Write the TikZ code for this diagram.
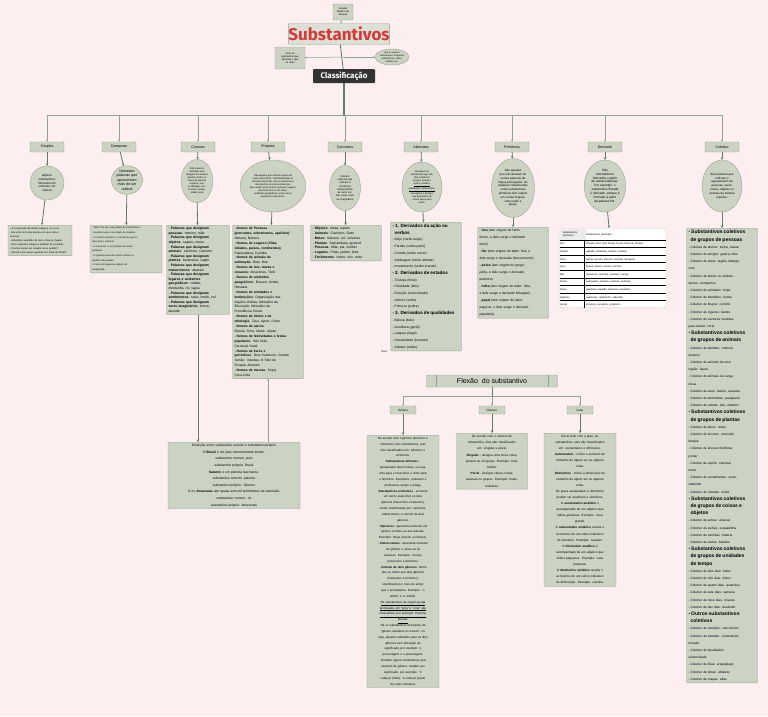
\documentclass[tikz,border=0pt]{standalone}
\usepackage{fontspec}
\setmainfont{Liberation Sans}
\newfontfamily\titlefont{Fira Sans}
\usetikzlibrary{shapes.geometric,arrows.meta}
\definecolor{bg}{HTML}{FDEFEF}
\definecolor{nf}{HTML}{CBD4C3}
\definecolor{nb}{HTML}{94A58E}
\definecolor{ln}{HTML}{5E7A6E}
\definecolor{ttl}{HTML}{D9383A}
\tikzset{
 cat/.style={draw=nb,fill=nf,rounded corners=1pt,minimum width=34pt,minimum height=10pt,inner sep=1pt,font=\fontsize{3.6}{4}\selectfont},
 ell/.style={ellipse,draw=nb,fill=nf,inner sep=0pt,align=center,font=\fontsize{3}{3.8}\selectfont},
 boxn/.style={draw=nb,fill=nf,rounded corners=1pt,anchor=north,inner sep=2pt,align=left,font=\fontsize{3.3}{5}\selectfont},
 conn/.style={draw=ln,line width=0.8pt,-{Stealth[length=2.5pt,width=2.5pt]}},
 thin/.style={draw=ln!70,line width=0.5pt,-{Stealth[length=2pt,width=2pt]}}
}
\begin{document}
\begin{tikzpicture}[x=1pt,y=-1pt]
\fill[bg] (0,0) rectangle (768,716);
\useasboundingbox (0,0) rectangle (768,716);
% header
\node[draw=nb,fill=nf,rounded corners=1pt,minimum width=20pt,minimum height=16pt,align=center,font=\fontsize{2.5}{3}\selectfont,inner sep=0pt] (auth) at (343,12) {Jonatas\\Martins da\\Oliveira};
\node[draw=nb,fill=nf!70,rounded corners=1pt,minimum width=98pt,minimum height=21pt,inner sep=0pt,font=\titlefont\bfseries\fontsize{17}{17}\selectfont,text=ttl] (sub) at (339,34) {Substantivos};
\node[draw=nb,fill=nf,rounded corners=1pt,minimum width=30pt,minimum height=22pt,align=center,font=\fontsize{2.5}{3}\selectfont,inner sep=0pt] (tudo) at (290,58) {Tudo ao\\substantivo que\\alimenta o que\\se mais};
\node[ellipse,draw=nb,fill=nf,minimum width=27pt,minimum height=16pt,align=center,font=\fontsize{2.3}{2.8}\selectfont,inner sep=0pt] (ir) at (392,57) {Isto é, acentua\\substantivos: Enquanto\\substantivos: ações,\\estados etc.};
\node[fill=black!80,rounded corners=1pt,minimum width=62pt,minimum height=14pt,inner sep=0pt,font=\titlefont\bfseries\fontsize{8}{8}\selectfont,text=white] (cls) at (344,76) {Classificação};
\draw[thin] (auth) -- (sub);
\coordinate (mid) at (344,57);
\draw[draw=ln,line width=0.8pt] (sub) -- (cls);
\draw[thin] (mid) -- (tudo);
\draw[thin] (mid) -- (ir);
% trunk
\coordinate (hb) at (344,115);
\draw[draw=ln,line width=1.2pt] (cls) -- (hb);
\draw[draw=ln!70,line width=0.6pt] (47,115) -- (722,115);
\foreach \n/\x/\t in {c1/47/Simples,c2/119/Composto,c3/198/Comuns,c4/268/Próprios,c5/345/Concretos,c6/421/Abstratos,c7/512/Primitivos,c8/605/Derivado,c9/722/Coletivo}{
 \node[cat] (\n) at (\x,147) {\t};
 \coordinate (t\n) at (\x,115);
 \draw[thin] (t\n) -- (\n);
}
% ellipses
\node[ell,minimum width=34pt,minimum height=34pt] (e1) at (47,183) {adjetivo\\substantivos\\formados em\\somente um\\radical};
\node[ell,minimum width=31pt,minimum height=27pt,font=\fontsize{3.6}{4.4}\selectfont] (e2) at (127,180) {Nomeiam\\palavras que\\apresentam\\mais de um\\radical};
\node[ell,minimum width=32pt,minimum height=43pt,font=\fontsize{2.4}{3}\selectfont] (e3) at (197,181) {São palavras\\utilizadas para\\designar de maneira\\genérica todos os\\seres da mesma\\espécie, sem\\os distinguir. Ex.:\\homem, mulher,\\cidade, país};
\node[ell,minimum width=54pt,minimum height=52pt,font=\fontsize{2.4}{3}\selectfont] (e4) at (273,186) {São aqueles que indicam nomes de\\seres específicos, individualizando-os\\de forma particular. Esses substantivos\\são escritos com letra maiúscula.\\São usados para nomear pessoas, lugares,\\títulos de livros e de obras,\\acidentes geográficos, entre outros\\elementos específicos.};
\node[ell,minimum width=31pt,minimum height=45pt,font=\fontsize{2.6}{3.3}\selectfont] (e5) at (345,188) {Indicam\\palavras que\\indicam a\\existência\\independente\\de outro ser.\\São seres reais\\ou imaginários};
\node[ell,minimum width=40pt,minimum height=50pt,font=\fontsize{2.4}{3}\selectfont] (e6) at (422,187) {Designam as\\substâncias que não\\têm existência\\própria. Indicam\\\underline{ações, estados,}\\\underline{qualidades, sentimentos},\\sensações e desejos\\que dependem de\\outros seres para\\existir.};
\node[ell,minimum width=43pt,minimum height=59pt,font=\fontsize{3}{3.8}\selectfont] (e7) at (513,188) {São aquelas\\que não derivam de\\outras palavras da\\língua portuguesa. As\\palavras classificadas\\como substantivos\\primitivos têm origem\\em outras línguas,\\como latim e\\grego.};
\node[ell,minimum width=37pt,minimum height=52pt,font=\fontsize{3.2}{3.9}\selectfont] (e8) at (605,186) {São\\substantivos\\formados a partir\\de outras palavras.\\Por exemplo, o\\substantivo florada\\é derivado, porque é\\formado a partir\\da palavra flor.};
\node[ell,minimum width=40pt,minimum height=52pt,font=\fontsize{3}{3.8}\selectfont] (e9) at (722,186) {São palavras que\\indicam o\\agrupamento de\\pessoas, seres,\\coisas, objetos ou\\animais da mesma\\espécie.};
\foreach \i in {1,...,9}{\draw[conn] (c\i) -- (e\i);}
% boxes
\node[boxn,text width=60pt,font=\fontsize{2.5}{4}\selectfont] (b1) at (40,225) {- A conjuntivite da minha colega é um vírus.\\- Ela está com uma doença em que corta o\\pescoço.\\- Amanhã a aparelho do meu irmão já chegou.\\- Este material é alegria e também foi revertido.\\- Precisa mudar um modelo ali ao pedido?\\- Quanto você espera ganhar nos finais de férias?};
\node[boxn,text width=68pt,font=\fontsize{2.4}{4.6}\selectfont] (b2) at (126,225) {- Tanto nós são mais partes da substantivos.\\- Guarda-roupa é um objeto de madeira.\\- O cachorro-quente é o lanche de que eu\\mais gosto, portanto.\\- A couve-flor é uma planta de muitas\\proteínas.\\- O guarda-chuva de ontem molhou os\\quadros das janelas.\\- O arco-íris apareceu depois da\\tempestade.};
\node[boxn,text width=59pt,font=\fontsize{3.4}{4.6}\selectfont] (b3) at (198,225) {- \textbf{Palavras que designam}\\\textbf{pessoas}: menino, mãe\\- \textbf{Palavras que designam}\\\textbf{objetos}: sapato, mesa\\- \textbf{Palavras que designam}\\\textbf{animais}: cachorro, cachorro\\- \textbf{Palavras que designam}\\\textbf{plantas}: bananeira, capim\\- \textbf{Palavras que designam}\\\textbf{meteorismos}: abacaxi\\- \textbf{Palavras que designam}\\\textbf{lugares e acidentes}\\\textbf{geográficos}: cidade,\\montanha, rio, lagoa\\- \textbf{Palavras que designam}\\\textbf{sentimentos}: raiva, medo, sol\\- \textbf{Palavras que designam}\\\textbf{seres imaginários}: bruxa,\\duende};
\node[boxn,text width=67pt,font=\fontsize{3.3}{4.9}\selectfont] (b4) at (268,225) {- \textbf{Nomes de Pessoas}\\\textbf{(prenomes, sobrenomes, apelidos)}:\\Adriana, Bezerra\\- \textbf{Nomes de Lugares (Vilas,}\\\textbf{cidades, países, continentes)}:\\Copacabana, Curitiba\\- \textbf{Nomes de animais de}\\\textbf{estimação}: Bidu, Bob\\- \textbf{Nomes de rios, mares e}\\\textbf{oceanos}: Amazonas, Tietê\\- \textbf{Nomes de acidentes}\\\textbf{geográficos}: Everest, Andes,\\Himalaia\\- \textbf{Nomes de entidades e}\\\textbf{instituições}: Organização das\\Nações Unidas, Ministério da\\Educação, Ministério da\\Previdência Social.\\- \textbf{Nomes de títulos e da}\\\textbf{mitologia}: Zeus, Apolo, Cristo\\- \textbf{Nomes de astros}: \\Estrela, Terra, Marte, Júpiter\\- \textbf{Nomes de festividades e festas}\\\textbf{populares}: São João,\\Carnaval, Natal.\\- \textbf{Nomes de livros e}\\\textbf{periódicos}: Dom Casmurro, Grande\\Sertão: Veredas, O Sítio do\\Picapau Amarelo\\- \textbf{Nomes de marcas}: Pepsi,\\Coca-Cola};
\node[boxn,text width=67pt,font=\fontsize{3.4}{4.8}\selectfont] (b5) at (346,225) {- \textbf{Objetos}: mesa, tapete\\- \textbf{Animais}: Cachorro, Gato\\- \textbf{Metas}: Saturno, sol, universo\\- \textbf{Plantas}: Samambaia, girassol\\- \textbf{Pessoas}: Mãe, pai, mulher\\- \textbf{Lugares}: Praia, jardim, feira\\- \textbf{Fenômenos}: Vento, céu, noite};
\node[boxn,text width=67pt,font=\fontsize{3.3}{6.7}\selectfont] (b6) at (426,222) {{\fontsize{4.6}{5.5}\selectfont\textbf{- 1. Derivados da ação ou}}\\{\fontsize{4.6}{5.5}\selectfont\textbf{\ \ verbos}}\\- Beijo (verbo beijar)\\- Partida (verbo partir)\\- Corrida (verbo correr)\\- Arbitragem (verbo arbitrar)\\- Investimento (verbo investir)\\{\fontsize{4.6}{5.5}\selectfont\textbf{- 2. Derivados de estados}}\\- Tristeza (triste)\\- Felicidade (feliz)\\- Emoção (emocionado)\\- Velhice (velho)\\- Pobreza (pobre)\\{\fontsize{4.6}{5.5}\selectfont\textbf{- 3. Derivados de qualidades}}\\- Beleza (belo)\\- Gentileza (gentil)\\- Largura (largo)\\- Honestidade (honesto)\\- Solidez (sólido)};
\node[font=\fontsize{2.5}{3}\selectfont] (txt) at (384,352) {Texto};
\node[boxn,text width=67pt,font=\fontsize{3.3}{7}\selectfont] (b7) at (513,227) {- \textbf{fera} (tem origem do latim:\\ferum, a dele surge o derivado\\feroz)\\- \textbf{flor} (tem origem do latim: flos, e\\dele surge o derivado florescimento)\\- \textbf{pedra} (tem origem do grego:\\pétra, e dele surge o derivado\\pedreira)\\- \textbf{folha} (tem origem do latim: folia,\\e dele surge o derivado folhagem)\\- \textbf{papel} (tem origem do latim:\\papyrus, e dele surge o derivado\\papelaria)};
% derivados table
\node[draw=nb!60,fill=white,rounded corners=1pt,anchor=north,inner sep=0pt,font=\fontsize{2.5}{3}\selectfont] (b8) at (613,228) {%
\renewcommand{\arraystretch}{2.4}\setlength{\tabcolsep}{2pt}%
\begin{tabular}{@{}p{22pt}|p{80pt}@{}}
\multicolumn{1}{@{}p{22pt}}{\colorbox{black!8}{\parbox{20pt}{Substantivos\\primitivos}}} & Substantivos derivados\\\hline
Flor & Florada, flora, florir, florido, floreio, florescer, floreira\\\hline
Cidade & cidadão, cidadania, citadino, citadina\\\hline
Terra & aterrar, terreno, enterrar, terrestre, terráqueo\\\hline
Livro & livraria, livreiro, livresco, livrinho\\\hline
Mar & marinheiro, marinha, marítimo, marujo\\\hline
Pedra & pedregulho, pedreiro, pedraria, pedrada\\\hline
Papel & papelaria, papelão, papeleiro, papelada\\\hline
Caderno & caderneta, caderninho, cadernão\\\hline
Jornal & jornaleiro, jornalista, jornalismo
\end{tabular}};
\node[boxn,text width=67pt,font=\fontsize{3.2}{7.2}\selectfont] (b9) at (722,228) {{\fontsize{5}{6.6}\selectfont\textbf{- Substantivos coletivos}}\\{\fontsize{5}{6.6}\selectfont\textbf{\ \ de grupos de pessoas}}\\- Coletivo de alunos: turma, classe\\- Coletivo de amigos: galera, tribo\\- Coletivo de anjos: legião, falange,\\coro\\- Coletivo de atores ou artistas:\\elenco, companhia\\- Coletivo de soldados: tropa\\- Coletivo de bandidos: horda\\- Coletivo de bispos: concílio\\- Coletivo de ciganos: bando\\- Coletivo de cantores reunidos\\para cantar: coral\\{\fontsize{5}{6.6}\selectfont\textbf{- Substantivos coletivos}}\\{\fontsize{5}{6.6}\selectfont\textbf{\ \ de grupos de animais}}\\- Coletivo de abelhas: colmeia,\\enxame\\- Coletivo de animais de uma\\região: fauna\\- Coletivo de animais de carga:\\récua\\- Coletivo de aves: bando, revoada\\- Coletivo de borboletas: panapanã\\- Coletivo de cabras: fato, rebanho\\{\fontsize{5}{6.6}\selectfont\textbf{- Substantivos coletivos}}\\{\fontsize{5}{6.6}\selectfont\textbf{\ \ de grupos de plantas}}\\- Coletivo de alhos: réstia\\- Coletivo de árvores: arvoredo,\\bosque\\- Coletivo de árvores frutíferas:\\pomar\\- Coletivo de capim: capinzal,\\moita\\- Coletivo de castanheiras: souto,\\castinhal\\- Coletivo de cebolas: réstia\\{\fontsize{5}{6.6}\selectfont\textbf{- Substantivos coletivos}}\\{\fontsize{5}{6.6}\selectfont\textbf{\ \ de grupos de coisas e}}\\{\fontsize{5}{6.6}\selectfont\textbf{\ \ objetos}}\\- Coletivo de armas: arsenal\\- Coletivo de aviões: esquadrilha\\- Coletivo de canhões: bateria\\- Coletivo de cartas: baralho\\{\fontsize{5}{6.6}\selectfont\textbf{- Substantivos coletivos}}\\{\fontsize{5}{6.6}\selectfont\textbf{\ \ de grupos de unidades}}\\{\fontsize{5}{6.6}\selectfont\textbf{\ \ de tempo}}\\- Coletivo de dois dias: biduo\\- Coletivo de três dias: tríduo\\- Coletivo de quatro dias: quatríduo\\- Coletivo de sete dias: semana\\- Coletivo de nove dias: novena\\- Coletivo de dez dias: decêndio\\{\fontsize{5}{6.6}\selectfont\textbf{- Outros substantivos}}\\{\fontsize{5}{6.6}\selectfont\textbf{\ \ coletivos}}\\- Coletivo de canções: cancioneiro\\- Coletivo de estrelas: constelação,\\miríade\\- Coletivo de faculdades:\\universidade\\- Coletivo de ilhas: arquipélago\\- Coletivo de letras: alfabeto\\- Coletivo de mapas: atlas};
\foreach \i in {1,...,9}{\draw[conn] (e\i) -- (b\i);}
% distinção
\node[boxn,text width=128pt,align=center,font=\fontsize{3.3}{6.6}\selectfont] (dist) at (234,442) {Distinção entre substantivo comum e substantivo próprio\\O \textbf{Brasil} é um país extremamente bonito.\\substantivo comum: país\\substantivo próprio: Brasil\\\textbf{Saturno} é um planeta fascinante.\\substantivo comum: planeta\\substantivo próprio: Saturno\\O rio \textbf{Amazonas} tem quase seis mil quilômetros de extensão.\\substantivo comum: rio\\substantivo próprio: Amazonas};
\coordinate (dl) at (198,442);
\coordinate (dr) at (268,442);
\draw[draw=ln,line width=0.8pt,-{Stealth[length=2.5pt,width=2.5pt]}] (b3.south) -- (dl);
\draw[thin] (dr) -- (b4.south);
% flexão
\node[draw=nb,fill=nf,rounded corners=1pt,minimum width=131pt,minimum height=12pt,inner sep=0pt,font=\fontsize{7}{7}\selectfont] (flex) at (492,381) {Flexão\ \ do substantivo};
\draw[nb] (436,375) -- (436,387) (548,375) -- (548,387);
\draw[draw=ln!70,line width=0.6pt] (403,396) -- (580,396);
\draw[draw=ln,line width=0.8pt] (flex) -- (492,396);
\node[cat,minimum width=26pt,minimum height=8pt,font=\fontsize{3}{3}\selectfont] (g1) at (403,410) {Gênero};
\node[cat,minimum width=26pt,minimum height=8pt,font=\fontsize{3}{3}\selectfont] (g2) at (492,410) {Número};
\node[cat,minimum width=26pt,minimum height=8pt,font=\fontsize{3}{3}\selectfont] (g3) at (580,410) {Grau};
\coordinate (f1) at (403,396);\coordinate (f2) at (492,396);\coordinate (f3) at (580,396);
\foreach \i in {1,2,3}{\draw[thin] (f\i) -- (g\i);}
\node[boxn,text width=68pt,align=center,font=\fontsize{3}{5.85}\selectfont] (h1) at (403,435) {De acordo com o gênero (feminino e\\masculino) dos substantivos, eles\\são classificados em: biformes e\\uniformes.\\\textbf{Substantivos biformes} -\\apresentam duas formas, ou seja,\\uma para o masculino e outra para\\o feminino. Exemplos: professor e\\professora, amigo e amiga.\\\textbf{Substantivos uniformes} - somente\\um termo específico os dois\\gêneros (masculino e feminino),\\sendo classificados em: epicenos,\\sobrecomuns e comum de dois\\gêneros.\\- \textbf{Epicenos}: apresenta somente um\\gênero e refere-se aos animais.\\Exemplo: Onça (macho ou fêmea).\\- \textbf{Sobrecomuns}: apresenta somente\\um gênero e refere-se às\\pessoas. Exemplo: criança\\(masculino e feminino).\\- \textbf{Comum de dois gêneros}: termo\\que se refere aos dois gêneros\\(masculino e feminino),\\identificado por meio do artigo\\que o acompanha. Exemplo: ``o\\artista'' e ``a artista''.\\\underline{Os substantivos de origem grega}\\\underline{terminados em ``ema'' e ``oma'' são}\\\underline{masculinos, por exemplo: fonema,}\\\underline{poema.}\\Há os substantivos chamados de\\``gênero duvidoso ou incerto'', ou\\seja, aqueles utilizados para os dois\\gêneros sem alteração do\\significado, por exemplo: o\\personagem e a personagem.\\- Existem alguns substantivos que,\\variando de gênero, mudam seu\\significado, por exemplo: ``o\\cabeça'' (líder), ``a cabeça'' (parte\\do corpo humano).};
\node[boxn,text width=67pt,align=center,font=\fontsize{3.1}{6.2}\selectfont] (h2) at (492,433) {De acordo com o número do\\substantivo, eles são classificados\\em: singular e plural.\\\textbf{Singular} - designa uma única coisa,\\pessoa ou um grupo. Exemplo: bola,\\mulher.\\\textbf{Plural} - designa várias coisas,\\pessoas ou grupos. Exemplo: bolas,\\mulheres.};
\node[boxn,text width=68pt,align=center,font=\fontsize{3.1}{6.1}\selectfont] (h3) at (580,433) {De acordo com o grau, os\\substantivos, eles são classificados\\em: aumentativo e diminutivo.\\\textbf{Aumentativo} - indica o aumento do\\tamanho de algum ser ou alguma\\coisa.\\\textbf{Diminutivo} - indica a diminuição do\\tamanho de algum ser ou alguma\\coisa.\\Os graus aumentativo e diminutivo\\podem ser analíticos e sintéticos.\\O \textbf{aumentativo analítico} é\\acompanhado de um adjetivo que\\indica grandeza. Exemplo: casa\\grande.\\O \textbf{aumentativo sintético} recebe o\\acréscimo de um sufixo indicativo\\de aumento. Exemplo: casarão.\\O \textbf{diminutivo analítico} é\\acompanhado de um adjetivo que\\indica pequenez. Exemplo: casa\\pequena.\\O \textbf{diminutivo sintético} recebe o\\acréscimo de um sufixo indicativo\\de diminuição. Exemplo: casinha.};
\foreach \i in {1,2,3}{\draw[conn] (g\i) -- (h\i);}
\end{tikzpicture}
\end{document}
